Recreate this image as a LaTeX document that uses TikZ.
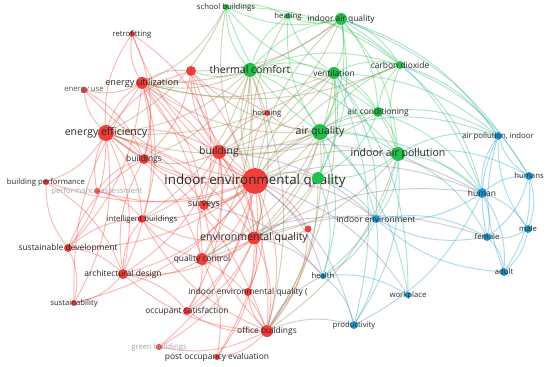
\documentclass[tikz,border=0pt]{standalone}
\usepackage{fontspec}
\setmainfont{Open Sans}
\usetikzlibrary{backgrounds}
\definecolor{vosred}{RGB}{242,62,56}
\definecolor{vosgreen}{RGB}{34,192,74}
\definecolor{vosblue}{RGB}{32,150,212}
\definecolor{txt}{RGB}{40,40,40}
\tikzset{
  rnode/.style  = {circle, fill=vosred, inner sep=0pt, minimum size=#1},
  gnode/.style  = {circle, fill=vosgreen, inner sep=0pt, minimum size=#1},
  bnode/.style  = {circle, fill=vosblue, inner sep=0pt, minimum size=#1},
  lab/.style    = {font=\fontsize{#1}{#1}\selectfont, text=txt, inner sep=0pt},
  lbxl/.style   = {lab=7.6pt},
  lblg/.style   = {lab=6pt},
  lbmd/.style   = {lab=5.2pt},
  lbsm/.style   = {lab=4.8pt},
  lbxs/.style   = {lab=4.4pt},
  faint/.style  = {text=black!35},
  edge/.style   = {line width=.55pt, opacity=.36, bend left=18},
  rr/.style     = {edge, draw=vosred},
  gg/.style     = {edge, draw=vosgreen},
  bb/.style     = {edge, draw=vosblue},
  rg/.style     = {edge, draw=vosred!50!vosgreen},
  rb/.style     = {edge, draw=vosred!45!vosblue},
  gb/.style     = {edge, draw=vosgreen!50!vosblue}
}
\begin{document}
\begin{tikzpicture}[x=0.02cm, y=-0.02cm]
  \useasboundingbox (0,0) rectangle (550,367);
  % red cluster
  \node[rnode=5.2mm, label={[lbxl]center:indoor environmental quality}] (ieq) at (255,181) {};
  \node[rnode=2.8mm, label={[lblg]center:building}] (bldg) at (219,152) {};
  \node[rnode=3.2mm, label={[lblg]center:energy efficiency}] (enef) at (106,133) {};
  \node[rnode=2.4mm, label={[lbmd]center:energy utilization}] (enut) at (142,83) {};
  \node[rnode=1.2mm, label={[lbxs]center:retrofitting}] (retro) at (132,34) {};
  \node[rnode=1.2mm, label={[lbxs, text=black!65]center:energy use}] (enuse) at (84,90) {};
  \node[rnode=2mm] (redx) at (191,71) {};
  \node[rnode=1.2mm, label={[lbxs]center:housing}] (housing) at (267,113) {};
  \node[rnode=2mm, label={[lbsm]center:buildings}] (bldgs) at (144,159) {};
  \node[rnode=1.2mm, label={[lbxs]center:building performance}] (bperf) at (46,182) {};
  \node[rnode=1.2mm, label={[lbxs, faint]center:performance assessment}] (passess) at (97,191) {};
  \node[rnode=2mm, label={[lbmd]center:surveys}] (surveys) at (204,205) {};
  \node[rnode=1.6mm, label={[lbxs]center:intelligent buildings}] (intel) at (142,219) {};
  \node[rnode=2.6mm, label={[lblg]center:environmental quality}] (envq) at (254,238) {};
  \node[rnode=1.4mm] (redy) at (308,229) {};
  \node[rnode=1.6mm, label={[lbsm]center:sustainable development}] (susdev) at (68,248) {};
  \node[rnode=2.4mm, label={[lbsm]center:quality control}] (qc) at (202,259) {};
  \node[rnode=2mm, label={[lbsm]center:architectural design}] (archd) at (123,274) {};
  \node[rnode=1.6mm, label={[lbsm]center:indoor environmental quality (}] (ieqp) at (248,292) {};
  \node[rnode=1.2mm, label={[lbxs]center:sustainability}] (sust) at (74,303) {};
  \node[rnode=1.6mm, label={[lbsm]center:occupant satisfaction}] (occsat) at (187,311) {};
  \node[rnode=2.4mm, label={[lbsm]center:office buildings}] (office) at (267,331) {};
  \node[rnode=1.2mm, label={[lbxs, faint]center:green buildings}] (greenb) at (159,347) {};
  \node[rnode=1.2mm, label={[lbsm]center:post occupancy evaluation}] (poe) at (217,357) {};
  % green cluster
  \node[gnode=1.2mm, label={[lbxs]center:school buildings}] (school) at (226,7) {};
  \node[gnode=1.2mm, label={[lbxs]center:heating}] (heating) at (288,16) {};
  \node[gnode=2.4mm, label={[lbsm]center:indoor air quality}] (iaq) at (341,19) {};
  \node[gnode=2.8mm, label={[lblg]center:thermal comfort}] (thermal) at (250,70) {};
  \node[gnode=2.4mm, label={[lbsm]center:ventilation}] (vent) at (334,73) {};
  \node[gnode=1.6mm, label={[lbsm]center:carbon dioxide}] (co2) at (400,65) {};
  \node[gnode=2mm, label={[lbsm]center:air conditioning}] (aircon) at (378,112) {};
  \node[gnode=3.2mm, label={[lblg]center:air quality}] (airq) at (320,132) {};
  \node[gnode=2.8mm, label={[lblg]center:indoor air pollution}] (iap) at (398,154) {};
  \node[gnode=2.4mm] (greenx) at (318,178) {};
  % blue cluster
  \node[bnode=1.6mm, label={[lbxs]center:{air pollution, indoor}}] (apind) at (498,136) {};
  \node[bnode=1.6mm, label={[lbxs]center:humans}] (humans) at (529,176) {};
  \node[bnode=2mm, label={[lbsm]center:human}] (human) at (482,193) {};
  \node[bnode=1.6mm, label={[lbsm]center:indoor environment}] (indenv) at (376,219) {};
  \node[bnode=1.6mm, label={[lbxs]center:male}] (male) at (528,229) {};
  \node[bnode=1.6mm, label={[lbxs]center:female}] (female) at (487,237) {};
  \node[bnode=1.6mm, label={[lbxs]center:adult}] (adult) at (504,272) {};
  \node[bnode=1.2mm, label={[lbxs]center:health}] (health) at (323,276) {};
  \node[bnode=1.2mm, label={[lbxs]center:workplace}] (workp) at (408,295) {};
  \node[bnode=1.6mm, label={[lbxs]center:productivity}] (prod) at (354,325) {};

  \begin{pgfonlayer}{background}
    \foreach \a/\b in {ieq/bldg, ieq/enef, ieq/enut, ieq/bldgs, ieq/surveys, ieq/intel,
        ieq/envq, ieq/qc, ieq/archd, ieq/ieqp, ieq/office, ieq/occsat, ieq/poe, ieq/redx,
        ieq/housing, ieq/susdev, ieq/greenb, ieq/passess, ieq/bperf, ieq/redy, ieq/sust,
        ieq/retro, ieq/enuse, enef/enut, enef/retro, enef/enuse, enef/bldgs, enef/bperf,
        enef/susdev, enef/archd, enef/sust, enef/bldg, enef/intel, enef/qc, enef/envq,
        enef/redx, enef/surveys, enef/office, enut/retro, enut/enuse, enut/bldg, enut/redx,
        enut/bldgs, enut/intel, enut/archd, enut/envq, enut/susdev, enut/qc, enut/surveys,
        enut/housing, bldg/redx, bldg/envq, bldg/surveys, bldg/qc, bldg/office, bldg/bldgs,
        bldg/housing, bldg/archd, bldg/intel, bldg/occsat, envq/qc, envq/surveys,
        envq/office, envq/ieqp, envq/intel, envq/archd, envq/occsat, envq/poe, envq/greenb,
        qc/office, qc/archd, qc/surveys, qc/intel, qc/occsat, qc/poe, office/ieqp,
        office/occsat, office/poe, office/greenb, office/surveys, office/archd,
        office/intel, susdev/archd, susdev/sust, susdev/intel, susdev/bperf, susdev/bldgs,
        archd/intel, archd/sust, archd/occsat, archd/bldgs, passess/intel, passess/bldgs,
        passess/enef, retro/bldgs, retro/bldg, redx/surveys, redx/bldgs, redx/envq,
        redy/envq, redy/office, enuse/bldgs, bperf/archd, sust/enut}
      \draw[rr] (\a) to (\b);
    \foreach \a/\b in {ieq/thermal, ieq/airq, ieq/vent, ieq/iaq, ieq/iap, ieq/aircon,
        ieq/greenx, ieq/school, ieq/co2, ieq/heating, thermal/bldg, thermal/enut,
        thermal/enef, thermal/redx, thermal/housing, thermal/envq, thermal/office,
        thermal/qc, thermal/surveys, thermal/bldgs, thermal/intel, airq/bldg, airq/envq,
        airq/qc, airq/housing, airq/redx, airq/office, airq/enef, airq/enut, airq/surveys,
        vent/bldg, vent/enut, vent/envq, vent/enef, vent/office, school/enut, school/enef,
        iaq/redx, iaq/enut, iaq/bldg, greenx/envq, greenx/office, greenx/qc, iap/envq,
        iap/office, aircon/bldg, co2/enut}
      \draw[rg] (\a) to (\b);
    \foreach \a/\b in {thermal/vent, thermal/iaq, thermal/airq, thermal/school,
        thermal/heating, thermal/co2, thermal/aircon, thermal/iap, iaq/vent, iaq/airq,
        iaq/co2, iaq/heating, iaq/school, iaq/aircon, iaq/iap, iaq/greenx, vent/airq,
        vent/aircon, vent/co2, vent/iap, vent/greenx, vent/heating, vent/school,
        airq/aircon, airq/iap, airq/greenx, airq/co2, airq/heating, airq/school,
        aircon/iap, aircon/co2, aircon/greenx, iap/greenx, iap/co2, school/heating,
        heating/co2, school/co2}
      \draw[gg] (\a) to (\b);
    \foreach \a/\b in {iap/human, iap/apind, iap/indenv, iap/health, iap/prod, iap/humans,
        iap/female, airq/indenv, airq/human, airq/apind, airq/health, airq/workp,
        co2/human, co2/apind, co2/humans, vent/apind, vent/indenv, vent/workp, vent/prod,
        iaq/human, iaq/apind, iaq/humans, aircon/apind, aircon/human, greenx/indenv,
        greenx/health}
      \draw[gb] (\a) to (\b);
    \foreach \a/\b in {ieq/indenv, ieq/health, ieq/human, ieq/prod, ieq/workp,
        envq/human, envq/female, envq/health, office/prod, office/health, bldg/indenv,
        bldg/human, qc/indenv, surveys/health}
      \draw[rb] (\a) to (\b);
    \foreach \a/\b in {human/humans, human/apind, human/male, human/female, human/adult,
        human/indenv, humans/apind, humans/male, humans/female, humans/adult, male/female,
        male/adult, male/apind, female/adult, female/apind, adult/apind, adult/indenv,
        indenv/health, indenv/prod, indenv/female, health/prod, health/workp,
        human/prod, female/indenv}
      \draw[bb] (\a) to (\b);
  \end{pgfonlayer}
\end{tikzpicture}
\end{document}
